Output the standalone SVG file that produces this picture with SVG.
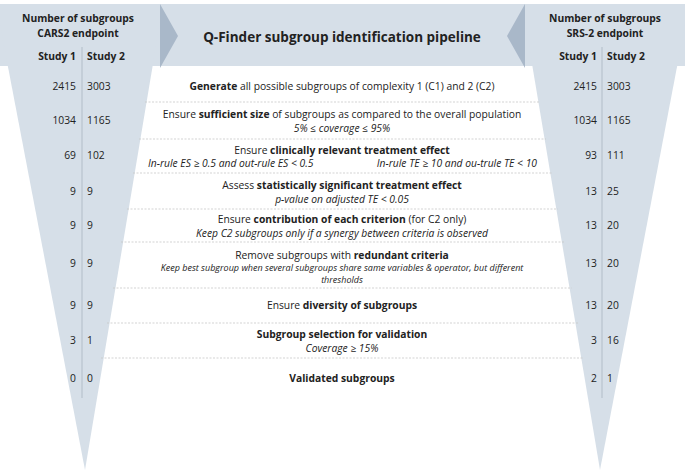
<svg xmlns="http://www.w3.org/2000/svg" width="685" height="472" viewBox="0 0 685 472">
<style>
text{font-family:"Open Sans","Liberation Sans",sans-serif;font-size:10.3px;fill:#222}
.b{font-weight:bold}.i{font-style:italic}.c{text-anchor:middle}.r{text-anchor:end}
.h{font-weight:bold;font-size:10.3px}
.sep{stroke:#c8c8c8;stroke-width:0.8;stroke-dasharray:2,1.5}
.div{stroke:#aab4c0;stroke-width:0.8}
</style>
<g id="background">
<rect x="0" y="0" width="685" height="472" fill="#fff"/>
<rect x="0" y="4" width="685" height="62" fill="#d6dfe8"/>
<polygon points="-4,4 163,4 85,470" fill="#d6dfe8"/>
<polygon points="522,4 689,4 600,470" fill="#d6dfe8"/>
<polygon points="160,4 178,36 160,68" fill="#a9b8c9"/>
<polygon points="525,4 507,36 525,68" fill="#a9b8c9"/>
<line class="div" x1="82" y1="47" x2="82" y2="398"/>
<line class="div" x1="602" y1="47" x2="602" y2="398"/>
</g>
<g id="header">
<text class="h c" x="78" y="22">Number of subgroups</text>
<text class="h c" x="78" y="37">CARS2 endpoint</text>
<text class="h r" x="76" y="60">Study 1</text>
<text class="h" x="87" y="60">Study 2</text>
<text class="b c" x="342" y="42" style="font-size:13.5px">Q-Finder subgroup identification pipeline</text>
<text class="h c" x="605" y="22">Number of subgroups</text>
<text class="h c" x="605" y="37">SRS-2 endpoint</text>
<text class="h r" x="597" y="60">Study 1</text>
<text class="h" x="607" y="60">Study 2</text>
</g>
<g id="connectors">
<line class="sep" x1="145" y1="102" x2="540" y2="102"/>
<line class="sep" x1="139" y1="139" x2="546" y2="139"/>
<line class="sep" x1="133" y1="173" x2="552" y2="173"/>
<line class="sep" x1="127" y1="209" x2="558" y2="209"/>
<line class="sep" x1="121" y1="242" x2="564" y2="242"/>
<line class="sep" x1="113" y1="288" x2="572" y2="288"/>
<line class="sep" x1="107" y1="323" x2="578" y2="323"/>
<line class="sep" x1="101" y1="358" x2="584" y2="358"/>
</g>
<g id="rows">
<g id="r1"><text class="r" x="76" y="90">2415</text><text x="87" y="90">3003</text>
<text class="c" x="342" y="90"><tspan class="b">Generate</tspan> all possible subgroups of complexity 1 (C1) and 2 (C2)</text>
<text class="r" x="597" y="90">2415</text><text x="607" y="90">3003</text></g>
<g id="r2"><text class="r" x="76" y="124">1034</text><text x="87" y="124">1165</text>
<text class="c" x="342" y="118">Ensure <tspan class="b">sufficient size</tspan> of subgroups as compared to the overall population</text>
<text class="c i" x="342" y="132">5% ≤ coverage ≤ 95%</text>
<text class="r" x="597" y="124">1034</text><text x="607" y="124">1165</text></g>
<g id="r3"><text class="r" x="76" y="159">69</text><text x="87" y="159">102</text>
<text class="c" x="342" y="154">Ensure <tspan class="b">clinically relevant treatment effect</tspan></text>
<text class="i" x="148" y="167">In-rule ES ≥ 0.5 and out-rule ES &lt; 0.5</text>
<text class="i r" x="537" y="167">In-rule TE ≥ 10 and ou-trule TE &lt; 10</text>
<text class="r" x="597" y="159">93</text><text x="607" y="159">111</text></g>
<g id="r4"><text class="r" x="76" y="195">9</text><text x="87" y="195">9</text>
<text class="c" x="342" y="189">Assess <tspan class="b">statistically significant treatment effect</tspan></text>
<text class="c i" x="342" y="203">p-value on adjusted TE &lt; 0.05</text>
<text class="r" x="597" y="195">13</text><text x="607" y="195">25</text></g>
<g id="r5"><text class="r" x="76" y="229">9</text><text x="87" y="229">9</text>
<text class="c" x="342" y="223">Ensure <tspan class="b">contribution of each criterion</tspan> (for C2 only)</text>
<text class="c i" x="342" y="237">Keep C2 subgroups only if a synergy between criteria is observed</text>
<text class="r" x="597" y="229">13</text><text x="607" y="229">20</text></g>
<g id="r6"><text class="r" x="76" y="267">9</text><text x="87" y="267">9</text>
<text class="c" x="342" y="259">Remove subgroups with <tspan class="b">redundant criteria</tspan></text>
<text class="c i" x="342" y="271" style="font-size:9px">Keep best subgroup when several subgroups share same variables &amp; operator, but different</text>
<text class="c i" x="342" y="283" style="font-size:9px">thresholds</text>
<text class="r" x="597" y="267">13</text><text x="607" y="267">20</text></g>
<g id="r7"><text class="r" x="76" y="309">9</text><text x="87" y="309">9</text>
<text class="c" x="342" y="309">Ensure <tspan class="b">diversity of subgroups</tspan></text>
<text class="r" x="597" y="309">13</text><text x="607" y="309">20</text></g>
<g id="r8"><text class="r" x="76" y="344">3</text><text x="87" y="344">1</text>
<text class="c b" x="342" y="338">Subgroup selection for validation</text>
<text class="c i" x="342" y="352">Coverage ≥ 15%</text>
<text class="r" x="597" y="344">3</text><text x="607" y="344">16</text></g>
<g id="r9"><text class="r" x="76" y="382">0</text><text x="87" y="382">0</text>
<text class="c b" x="342" y="382">Validated subgroups</text>
<text class="r" x="597" y="382">2</text><text x="607" y="382">1</text></g>
</g>
</svg>
